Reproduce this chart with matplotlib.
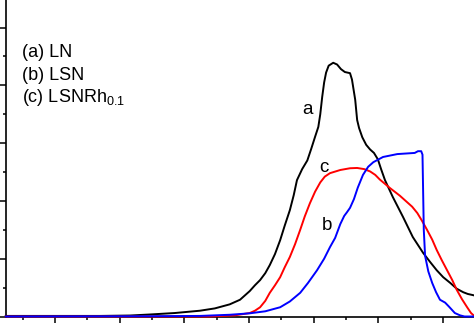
import matplotlib
matplotlib.use("Agg")
import matplotlib.pyplot as plt
from matplotlib.ticker import MultipleLocator

plt.rcParams['font.family'] = ['Liberation Sans', 'DejaVu Sans']
plt.rcParams['mathtext.fontset'] = 'custom'
plt.rcParams['mathtext.rm'] = 'Liberation Sans'
plt.rcParams['mathtext.it'] = 'Liberation Sans:italic'

# Curve (a) LN - black
x_a = [0.24, 1.70, 2.16, 2.47, 2.85, 3.24, 3.47, 3.70, 3.86, 4.01, 4.09, 4.17, 4.25, 4.32,
       4.40, 4.48, 4.55, 4.63, 4.69, 4.74, 4.82, 4.90, 4.96, 5.02, 5.07, 5.10, 5.13, 5.16,
       5.19, 5.23, 5.30, 5.36, 5.42, 5.48, 5.56, 5.59, 5.64, 5.67, 5.70, 5.75, 5.81, 5.87,
       5.93, 5.99, 6.04, 6.10, 6.22, 6.38, 6.53, 6.69, 6.80, 6.90, 7.00, 7.11, 7.21, 7.31,
       7.38, 7.46, 7.60]
y_a = [0.01, 0.01, 0.017, 0.035, 0.06, 0.10, 0.14, 0.21, 0.29, 0.44, 0.54, 0.63, 0.75, 0.89,
       1.08, 1.32, 1.57, 1.84, 2.10, 2.36, 2.55, 2.70, 2.90, 3.11, 3.28, 3.50, 3.80, 4.05,
       4.22, 4.34, 4.39, 4.36, 4.28, 4.23, 4.21, 4.10, 3.75, 3.40, 3.26, 3.10, 2.97, 2.89,
       2.83, 2.72, 2.55, 2.36, 2.07, 1.72, 1.375, 1.10, 0.94, 0.80, 0.68, 0.58, 0.48, 0.42,
       0.39, 0.37, 0.33]

# Curve (b) LSN - blue
x_b = [0.24, 2.50, 3.24, 3.70, 4.01, 4.25, 4.48, 4.63, 4.79, 4.91, 5.05, 5.16, 5.25, 5.33,
       5.41, 5.47, 5.51, 5.56, 5.62, 5.68, 5.76, 5.84, 5.92, 6.07, 6.29, 6.56, 6.61, 6.66,
       6.68, 6.70, 6.72, 6.77, 6.83, 6.89, 6.95, 7.03, 7.09, 7.18, 7.26, 7.33, 7.60]
y_b = [0.0, 0.005, 0.01, 0.03, 0.055, 0.09, 0.16, 0.26, 0.41, 0.58, 0.80, 1.00, 1.20, 1.36,
       1.60, 1.74, 1.80, 1.88, 2.03, 2.23, 2.45, 2.59, 2.67, 2.76, 2.81, 2.83, 2.86, 2.86,
       2.80, 1.50, 1.05, 0.78, 0.58, 0.42, 0.29, 0.24, 0.17, 0.06, 0.02, 0.0, 0.0]

# Curve (c) LSNRh0.1 - red
x_c = [0.24, 3.00, 3.39, 3.78, 4.01, 4.09, 4.17, 4.25, 4.32, 4.40, 4.48, 4.55, 4.63, 4.71,
       4.79, 4.86, 4.94, 5.02, 5.10, 5.17, 5.25, 5.41, 5.56, 5.67, 5.78, 5.87, 5.95, 6.02,
       6.18, 6.33, 6.44, 6.52, 6.60, 6.67, 6.75, 6.83, 6.90, 6.98, 7.06, 7.14, 7.21, 7.29,
       7.37, 7.43, 7.48, 7.60]
y_c = [0.0, 0.0, 0.0, 0.02, 0.06, 0.10, 0.16, 0.27, 0.41, 0.54, 0.68, 0.85, 1.03, 1.25,
       1.50, 1.73, 1.96, 2.16, 2.32, 2.42, 2.48, 2.535, 2.565, 2.57, 2.55, 2.51, 2.45, 2.37,
       2.22, 2.09, 1.98, 1.90, 1.79, 1.66, 1.50, 1.33, 1.15, 0.97, 0.80, 0.63, 0.46, 0.30,
       0.16, 0.06, 0.01, 0.0]

legend_lines = ["(a) LN", "(b) LSN", r"(c) LSNRh$_{\mathregular{0.1}}$"]
curve_labels = ["a", "b", "c"]

fig = plt.figure(figsize=(4.74, 3.23), dpi=100)
ax = fig.add_axes([6 / 474, 6.5 / 323, 468 / 474, 316.5 / 323])

lw = 1.4
ax.plot(x_a, y_a, color='black', lw=lw, clip_on=False, zorder=3)
ax.plot(x_c, y_c, color='#ff0000', lw=lw, clip_on=False, zorder=3)
ax.plot(x_b, y_b, color='#0000ff', lw=lw, clip_on=False, zorder=3)

ax.set_xlim(0.243, 7.476)
ax.set_ylim(0, 5.476)

ax.spines['top'].set_visible(False)
ax.spines['right'].set_visible(False)
ax.spines['left'].set_linewidth(1.2)
ax.spines['bottom'].set_linewidth(1.2)

ax.xaxis.set_major_locator(MultipleLocator(1))
ax.xaxis.set_minor_locator(MultipleLocator(0.5))
ax.yaxis.set_major_locator(MultipleLocator(1))
ax.yaxis.set_minor_locator(MultipleLocator(0.5))
ax.tick_params(which='both', direction='out', labelbottom=False, labelleft=False,
               width=1.1, top=False, right=False)
ax.tick_params(which='major', length=4.5)
ax.tick_params(which='minor', length=2.5)

ax.text(4.91, 3.512, curve_labels[0], fontsize=13.5, ha='center', va='baseline')
ax.text(5.204, 1.497, curve_labels[1], fontsize=13.5, ha='center', va='baseline')
ax.text(5.158, 2.50, curve_labels[2], fontsize=13.5, ha='center', va='baseline')

ys = [1 - 57.3 / 323, 1 - 80 / 323, 1 - 101.7 / 323]
for t, yy in zip(legend_lines, ys):
    fig.text(22 / 474, yy, t, fontsize=13, ha='left', va='baseline')

fig.savefig("out.png", dpi=100)
